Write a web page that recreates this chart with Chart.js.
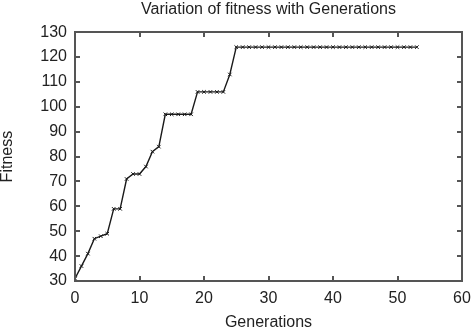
<!DOCTYPE html>
<html>
<head>
<meta charset="utf-8">
<script src="https://cdn.jsdelivr.net/npm/chart.js@4.4.1/dist/chart.umd.min.js"></script>
<style>
  html, body { margin: 0; padding: 0; background: #fff; overflow: hidden; }
  canvas { display: block; }
</style>
</head>
<body>
<canvas id="chart" width="474" height="329" style="width:474px;height:329px"></canvas>
<script>
  // Data
  const generations = [0, 1, 2, 3, 4, 5, 6, 7, 8, 9, 10, 11, 12, 13, 14, 15, 16, 17, 18, 19,
    20, 21, 22, 23, 24, 25, 26, 27, 28, 29, 30, 31, 32, 33, 34, 35, 36, 37, 38, 39,
    40, 41, 42, 43, 44, 45, 46, 47, 48, 49, 50, 51, 52, 53];
  const fitness = [31, 36, 41, 47, 48, 49, 59, 59, 71, 73, 73, 76, 82, 84, 97, 97, 97, 97, 97, 106,
    106, 106, 106, 106, 113, 124, 124, 124, 124, 124, 124, 124, 124, 124, 124, 124, 124, 124, 124, 124,
    124, 124, 124, 124, 124, 124, 124, 124, 124, 124, 124, 124, 124, 124];
  const xTicks = [0, 10, 20, 30, 40, 50, 60];
  const yTicks = [30, 40, 50, 60, 70, 80, 90, 100, 110, 120, 130];

  const font = 'Liberation Sans, Arial, sans-serif';
  const ink = '#222';

  // Box frame with inward tick marks on all four sides
  const frame = {
    id: 'frame',
    afterDraw(chart) {
      const { ctx, chartArea: a, scales } = chart;
      const len = 5;
      const l = Math.round(a.left), r = Math.round(a.right);
      const t = Math.round(a.top), b = Math.round(a.bottom);
      ctx.save();
      ctx.fillStyle = '#555';
      ctx.fillRect(l - 1, t - 1, r - l + 2, 2);
      ctx.fillRect(l - 1, b - 1, r - l + 2, 2);
      ctx.fillRect(l - 1, t - 1, 2, b - t + 2);
      ctx.fillRect(r - 1, t - 1, 2, b - t + 2);
      xTicks.forEach(v => {
        const px = Math.round(scales.x.getPixelForValue(v));
        ctx.fillRect(px - 1, b - len, 2, len);
        ctx.fillRect(px - 1, t, 2, len);
      });
      yTicks.forEach(v => {
        const py = Math.round(scales.y.getPixelForValue(v));
        ctx.fillRect(l, py - 1, len, 2);
        ctx.fillRect(r - len, py - 1, len, 2);
      });
      ctx.restore();
    }
  };

  new Chart(document.getElementById('chart'), {
    type: 'line',
    data: {
      datasets: [{
        data: generations.map((g, i) => ({ x: g, y: fitness[i] })),
        borderColor: '#1a1a1a',
        borderWidth: 1.4,
        pointStyle: 'crossRot',
        pointRadius: 2.5,
        pointBorderWidth: 1,
        pointBorderColor: '#1a1a1a',
        tension: 0
      }]
    },
    options: {
      responsive: false,
      animation: false,
      layout: { padding: { left: 0, right: 12, top: 0, bottom: 0 } },
      plugins: {
        legend: { display: false },
        tooltip: { enabled: false },
        title: {
          display: true,
          text: 'Variation of fitness with Generations',
          fullSize: false,
          color: ink,
          font: { family: font, size: 16, weight: 'normal' },
          padding: { top: 0, bottom: 13 }
        }
      },
      scales: {
        x: {
          type: 'linear',
          min: 0,
          max: 60,
          afterBuildTicks: s => { s.ticks = xTicks.map(v => ({ value: v })); },
          afterFit: s => { s.height = 48; s.paddingLeft = 0; s.paddingRight = 0; },
          grid: { drawOnChartArea: false, drawTicks: false },
          border: { display: false },
          ticks: { color: ink, padding: 8, font: { family: font, size: 16 } },
          title: {
            display: true,
            text: 'Generations',
            color: ink,
            padding: { top: 0, bottom: -3 },
            font: { family: font, size: 16 }
          }
        },
        y: {
          min: 30,
          max: 130,
          afterBuildTicks: s => { s.ticks = yTicks.map(v => ({ value: v })); },
          afterFit: s => { s.width = 75; s.paddingTop = 0; s.paddingBottom = 0; },
          grid: { drawOnChartArea: false, drawTicks: false },
          border: { display: false },
          ticks: { color: ink, padding: 8, font: { family: font, size: 16 } },
          title: {
            display: true,
            text: 'Fitness',
            color: ink,
            padding: { top: -2, bottom: 0 },
            font: { family: font, size: 16 }
          }
        }
      }
    },
    plugins: [frame]
  });
</script>
</body>
</html>
